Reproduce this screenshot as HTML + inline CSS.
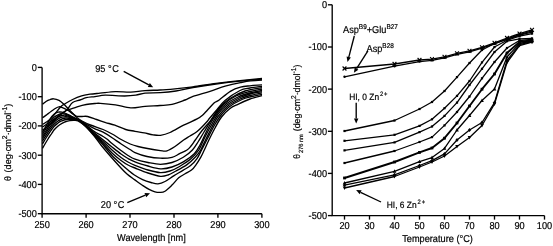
<!DOCTYPE html>
<html><head><meta charset="utf-8"><style>
html,body{margin:0;padding:0;background:#fff;width:553px;height:246px;overflow:hidden}
svg{display:block;filter:blur(0.3px)}
</style></head><body>
<svg width="553" height="246" viewBox="0 0 553 246">
<rect width="553" height="246" fill="#fff"/>
<path d="M42.1 67.4 V213.7 H261.9" stroke="#000" stroke-width="1.35" fill="none"/>
<path d="M37.8 67.4 H42.1" stroke="#000" stroke-width="1.35" fill="none"/>
<path d="M37.8 96.7 H42.1" stroke="#000" stroke-width="1.35" fill="none"/>
<path d="M37.8 125.9 H42.1" stroke="#000" stroke-width="1.35" fill="none"/>
<path d="M37.8 155.2 H42.1" stroke="#000" stroke-width="1.35" fill="none"/>
<path d="M37.8 184.4 H42.1" stroke="#000" stroke-width="1.35" fill="none"/>
<path d="M37.8 213.7 H42.1" stroke="#000" stroke-width="1.35" fill="none"/>
<path d="M42.1 213.7 V217.7" stroke="#000" stroke-width="1.35" fill="none"/>
<path d="M86.1 213.7 V217.7" stroke="#000" stroke-width="1.35" fill="none"/>
<path d="M130.0 213.7 V217.7" stroke="#000" stroke-width="1.35" fill="none"/>
<path d="M174.0 213.7 V217.7" stroke="#000" stroke-width="1.35" fill="none"/>
<path d="M217.9 213.7 V217.7" stroke="#000" stroke-width="1.35" fill="none"/>
<path d="M261.9 213.7 V217.7" stroke="#000" stroke-width="1.35" fill="none"/>
<path d="M42.5 124.5 C43.1 124.1 44.8 123.1 46.0 122.2 C47.2 121.4 48.7 120.7 50.0 119.5 C51.3 118.3 52.7 116.6 54.0 115.0 C55.3 113.4 56.8 111.5 58.0 110.0 C59.2 108.5 60.3 107.1 61.5 106.0 C62.7 104.9 63.6 104.6 65.4 103.5 C67.2 102.4 69.9 100.8 72.6 99.5 C75.3 98.2 78.7 96.8 81.6 95.9 C84.5 95.0 86.9 94.7 90.0 94.2 C93.1 93.8 95.8 93.6 100.0 93.2 C104.2 92.8 110.3 91.8 115.4 91.6 C120.5 91.4 125.8 92.3 130.7 92.1 C135.6 91.9 140.1 90.9 145.0 90.6 C149.9 90.2 155.0 90.3 160.0 90.0 C165.0 89.7 169.5 89.3 175.0 88.8 C180.5 88.3 186.2 87.7 193.0 86.8 C199.8 85.9 208.2 84.4 216.0 83.4 C223.8 82.4 232.3 81.4 240.0 80.6 C247.7 79.8 258.3 78.8 262.0 78.5" stroke="#000" stroke-width="1.35" fill="none"/>
<path d="M42.5 127.0 C43.2 126.5 45.2 125.2 47.0 124.0 C48.8 122.8 51.1 121.2 53.4 119.6 C55.7 118.0 58.4 115.9 60.6 114.3 C62.9 112.7 64.9 111.8 66.9 109.8 C68.9 107.8 70.4 104.1 72.6 102.5 C74.8 100.9 77.7 100.8 80.0 100.0 C82.3 99.2 83.7 98.3 86.2 97.7 C88.7 97.1 91.8 97.0 95.0 96.6 C98.2 96.2 100.4 95.3 105.3 95.2 C110.2 95.1 119.5 96.0 124.6 96.0 C129.7 96.0 132.4 95.7 135.8 95.2 C139.2 94.7 140.9 93.5 145.0 93.1 C149.1 92.7 155.3 93.0 160.5 92.7 C165.7 92.4 170.6 91.9 176.0 91.0 C181.4 90.1 186.3 88.7 193.0 87.5 C199.7 86.3 208.2 85.0 216.0 84.0 C223.8 83.0 232.3 82.0 240.0 81.2 C247.7 80.4 258.3 79.5 262.0 79.2" stroke="#000" stroke-width="1.35" fill="none"/>
<path d="M42.5 130.0 C43.2 129.5 45.4 128.2 47.0 127.0 C48.6 125.8 50.3 124.5 52.0 123.0 C53.7 121.5 55.3 119.6 57.0 118.0 C58.7 116.4 60.4 114.8 62.0 113.5 C63.6 112.2 65.0 111.2 66.4 110.5 C67.8 109.8 68.6 109.7 70.4 109.1 C72.2 108.5 74.5 107.6 77.1 106.8 C79.7 106.0 83.2 105.0 86.2 104.5 C89.2 104.0 92.7 103.7 95.0 103.5 C97.3 103.3 96.8 103.1 100.2 103.3 C103.6 103.5 110.3 104.0 115.4 104.8 C120.5 105.6 125.8 107.7 130.7 107.9 C135.6 108.2 140.1 106.7 145.0 106.3 C149.9 105.9 155.5 105.8 160.0 105.5 C164.5 105.2 167.8 105.3 172.0 104.4 C176.2 103.5 181.5 101.3 185.0 100.0 C188.5 98.7 188.8 97.8 193.0 96.3 C197.2 94.8 204.6 93.0 210.0 91.3 C215.4 89.6 220.1 87.7 225.2 86.2 C230.3 84.8 236.2 83.5 240.5 82.6 C244.8 81.7 247.1 81.2 250.7 80.8 C254.3 80.4 260.1 80.1 262.0 80.0" stroke="#000" stroke-width="1.35" fill="none"/>
<path d="M42.5 117.8 C43.2 117.2 45.6 115.5 47.0 114.5 C48.4 113.5 49.6 112.5 51.0 111.5 C52.4 110.5 53.9 109.3 55.2 108.5 C56.5 107.7 57.6 106.9 59.0 106.8 C60.4 106.7 62.1 107.5 63.6 108.1 C65.1 108.7 66.4 109.4 68.1 110.4 C69.8 111.5 72.0 113.4 73.5 114.4 C75.0 115.4 75.4 116.0 76.8 116.3 C78.2 116.6 80.2 116.5 82.0 116.5 C83.8 116.5 85.2 116.0 87.6 116.5 C90.0 117.0 93.6 118.5 96.6 119.5 C99.6 120.5 102.7 121.6 105.7 122.6 C108.7 123.5 111.5 124.0 114.8 125.2 C118.1 126.4 122.3 128.5 125.7 129.5 C129.1 130.5 131.9 130.7 135.0 131.3 C138.1 131.9 141.3 132.3 144.3 132.9 C147.3 133.5 150.3 134.4 153.0 134.8 C155.7 135.2 157.7 135.7 160.5 135.3 C163.3 134.9 166.2 134.2 170.0 132.5 C173.8 130.8 179.1 127.5 183.6 125.2 C188.1 122.9 193.9 120.6 197.1 118.9 C200.3 117.2 201.1 116.5 202.8 115.0 C204.5 113.5 205.6 112.0 207.5 110.0 C209.4 108.0 212.1 104.7 214.0 103.0 C215.9 101.3 216.5 102.0 219.2 100.0 C221.9 98.0 226.8 93.4 230.3 91.3 C233.9 89.2 237.2 88.1 240.5 87.2 C243.8 86.3 246.4 86.2 250.0 85.8 C253.6 85.4 260.0 85.1 262.0 84.9" stroke="#000" stroke-width="1.35" fill="none"/>
<path d="M42.5 104.2 C43.1 103.8 44.8 102.3 46.0 101.5 C47.2 100.7 48.7 100.0 50.0 99.6 C51.3 99.1 52.1 98.7 53.6 98.8 C55.1 98.9 57.3 99.5 59.0 100.4 C60.7 101.3 62.1 102.6 63.6 104.0 C65.1 105.4 66.6 107.1 68.1 108.6 C69.6 110.1 71.2 111.7 72.6 113.1 C73.9 114.5 74.6 115.7 76.2 117.0 C77.8 118.3 79.6 119.7 82.0 121.0 C84.4 122.3 86.9 123.6 90.4 125.0 C93.9 126.4 99.5 128.0 103.1 129.5 C106.7 131.0 109.1 132.3 112.1 134.0 C115.1 135.7 118.2 137.8 121.2 139.5 C124.2 141.2 127.4 142.8 130.2 144.0 C133.0 145.2 135.1 145.8 138.0 146.5 C140.9 147.2 143.8 147.8 147.5 148.5 C151.2 149.2 157.2 150.2 160.4 150.6 C163.7 151.0 164.6 151.5 167.0 150.8 C169.4 150.1 172.2 148.3 175.0 146.5 C177.8 144.7 181.1 141.8 183.6 140.0 C186.1 138.2 187.8 137.4 190.0 136.0 C192.2 134.6 194.4 133.8 197.1 131.6 C199.8 129.3 204.1 124.8 206.2 122.5 C208.3 120.2 208.2 119.9 209.8 118.0 C211.4 116.1 213.3 113.9 215.8 111.0 C218.3 108.1 221.0 103.9 225.0 100.5 C229.0 97.1 235.8 92.6 240.0 90.5 C244.2 88.4 246.3 88.7 250.0 88.0 C253.7 87.3 260.0 86.6 262.0 86.3" stroke="#000" stroke-width="1.35" fill="none"/>
<path d="M42.5 132.5 C43.1 131.4 44.8 128.2 46.0 126.0 C47.2 123.8 48.7 121.0 50.0 119.0 C51.3 117.0 52.7 115.4 54.0 114.3 C55.3 113.2 56.7 112.5 58.0 112.2 C59.3 111.9 60.7 112.0 62.0 112.2 C63.3 112.4 64.3 112.8 66.0 113.5 C67.7 114.2 70.0 115.5 72.0 116.5 C74.0 117.5 75.7 118.3 78.0 119.6 C80.3 120.9 83.3 122.8 86.0 124.2 C88.7 125.7 91.2 127.0 94.0 128.3 C96.8 129.6 100.1 130.6 103.1 132.2 C106.1 133.8 109.1 135.7 112.1 137.7 C115.1 139.7 118.2 142.0 121.2 144.0 C124.2 146.0 127.7 148.1 130.0 149.5 C132.3 150.9 132.2 151.4 135.0 152.6 C137.8 153.8 142.8 155.6 147.0 156.5 C151.2 157.4 156.2 158.1 160.4 158.2 C164.6 158.3 168.8 158.1 172.0 157.3 C175.2 156.6 177.1 154.9 179.6 153.7 C182.1 152.5 185.1 151.3 187.0 150.0 C188.9 148.7 189.6 147.7 191.0 146.0 C192.4 144.3 193.5 142.5 195.3 140.0 C197.1 137.5 199.3 134.1 201.7 131.0 C204.1 127.9 208.0 123.8 209.8 121.6 C211.6 119.4 210.8 120.4 212.5 118.0 C214.2 115.6 217.1 110.2 220.0 107.0 C222.9 103.8 225.8 101.2 230.0 98.5 C234.2 95.8 239.7 92.8 245.0 91.0 C250.3 89.2 259.2 88.2 262.0 87.7" stroke="#000" stroke-width="1.35" fill="none"/>
<path d="M42.5 134.5 C43.1 133.5 44.8 130.6 46.0 128.5 C47.2 126.4 48.7 123.9 50.0 122.0 C51.3 120.1 52.7 118.5 54.0 117.3 C55.3 116.1 56.7 115.4 58.0 114.8 C59.3 114.2 60.7 113.8 62.0 113.7 C63.3 113.6 64.3 113.8 66.0 114.3 C67.7 114.8 70.0 116.1 72.0 117.0 C74.0 117.9 75.7 118.4 78.0 119.7 C80.3 121.0 83.3 123.1 86.0 125.0 C88.7 126.9 91.2 129.4 94.0 131.3 C96.8 133.2 100.7 135.1 103.0 136.5 C105.3 137.9 106.1 138.3 107.6 139.5 C109.1 140.7 109.8 141.7 112.0 143.5 C114.2 145.3 118.3 148.5 121.0 150.5 C123.7 152.5 125.7 154.1 128.0 155.5 C130.3 156.9 131.7 158.0 135.0 159.2 C138.3 160.4 143.8 161.7 148.0 162.5 C152.2 163.3 156.4 164.3 160.4 164.3 C164.4 164.3 168.2 163.7 172.0 162.5 C175.8 161.3 179.9 159.4 183.3 157.3 C186.7 155.2 190.0 152.6 192.4 150.0 C194.8 147.4 196.1 145.0 198.0 142.0 C199.9 139.0 201.8 135.6 204.0 132.0 C206.2 128.4 209.0 123.7 211.0 120.5 C213.0 117.3 213.8 115.8 216.0 113.0 C218.2 110.2 220.7 106.8 224.0 104.0 C227.3 101.2 231.7 98.1 236.0 96.0 C240.3 93.9 245.7 92.7 250.0 91.5 C254.3 90.3 260.0 89.4 262.0 89.0" stroke="#000" stroke-width="1.35" fill="none"/>
<path d="M42.5 136.5 C43.1 135.6 44.8 133.0 46.0 131.0 C47.2 129.0 48.7 126.3 50.0 124.5 C51.3 122.7 52.7 121.2 54.0 120.0 C55.3 118.8 56.7 117.8 58.0 117.0 C59.3 116.2 60.7 115.8 62.0 115.5 C63.3 115.2 64.3 115.0 66.0 115.3 C67.7 115.6 70.0 116.8 72.0 117.5 C74.0 118.2 75.7 118.5 78.0 119.8 C80.3 121.1 83.3 123.4 86.0 125.5 C88.7 127.6 91.2 130.2 94.0 132.6 C96.8 135.0 100.0 137.4 103.0 139.8 C106.0 142.2 109.0 144.6 112.0 147.0 C115.0 149.4 118.3 152.1 121.0 154.0 C123.7 155.9 125.7 157.2 128.0 158.5 C130.3 159.8 131.7 160.6 135.0 161.8 C138.3 163.1 143.8 164.8 148.0 166.0 C152.2 167.2 156.4 168.6 160.4 168.8 C164.4 169.0 168.2 168.2 172.0 167.0 C175.8 165.8 179.6 164.1 183.3 161.9 C187.0 159.7 191.5 156.5 194.3 153.7 C197.1 150.9 198.1 148.5 200.0 145.0 C201.9 141.5 204.0 136.5 206.0 132.5 C208.0 128.5 210.0 124.4 212.0 121.0 C214.0 117.6 215.7 114.8 218.0 112.0 C220.3 109.2 222.7 106.5 226.0 104.0 C229.3 101.5 234.0 98.8 238.0 97.0 C242.0 95.2 246.0 94.1 250.0 93.0 C254.0 91.9 260.0 90.8 262.0 90.3" stroke="#000" stroke-width="1.35" fill="none"/>
<path d="M42.5 138.5 C43.1 137.6 44.8 134.9 46.0 133.0 C47.2 131.1 48.7 128.8 50.0 127.0 C51.3 125.2 52.7 123.5 54.0 122.2 C55.3 120.9 56.7 119.8 58.0 119.0 C59.3 118.2 60.7 117.6 62.0 117.2 C63.3 116.8 64.3 116.5 66.0 116.6 C67.7 116.7 70.0 117.5 72.0 118.0 C74.0 118.5 75.7 118.6 78.0 119.9 C80.3 121.2 83.3 123.7 86.0 126.0 C88.7 128.3 91.2 131.0 94.0 133.6 C96.8 136.2 100.0 138.9 103.0 141.6 C106.0 144.3 109.0 147.3 112.0 150.0 C115.0 152.7 118.3 155.5 121.0 157.5 C123.7 159.5 125.7 160.7 128.0 162.0 C130.3 163.3 131.7 164.0 135.0 165.3 C138.3 166.6 143.8 168.8 148.0 170.0 C152.2 171.2 156.7 172.4 160.4 172.6 C164.1 172.8 166.8 172.0 170.0 171.0 C173.2 170.0 176.2 168.5 179.6 166.5 C183.0 164.5 187.4 161.8 190.6 159.1 C193.8 156.3 196.4 153.7 198.8 150.0 C201.2 146.3 202.8 141.3 205.0 137.0 C207.2 132.7 209.8 127.8 212.0 124.0 C214.2 120.2 215.5 117.2 218.0 114.0 C220.5 110.8 223.3 107.8 227.0 105.0 C230.7 102.2 236.2 99.3 240.0 97.5 C243.8 95.7 246.3 95.0 250.0 94.0 C253.7 93.0 260.0 92.0 262.0 91.6" stroke="#000" stroke-width="1.35" fill="none"/>
<path d="M42.5 141.0 C43.1 140.1 44.8 137.2 46.0 135.3 C47.2 133.4 48.7 131.1 50.0 129.3 C51.3 127.5 52.7 125.7 54.0 124.3 C55.3 122.9 56.7 121.9 58.0 121.0 C59.3 120.1 60.7 119.5 62.0 119.0 C63.3 118.5 64.3 118.1 66.0 118.0 C67.7 117.9 70.0 118.3 72.0 118.6 C74.0 118.9 75.7 118.7 78.0 120.0 C80.3 121.3 83.3 123.9 86.0 126.3 C88.7 128.7 91.2 131.6 94.0 134.4 C96.8 137.2 100.0 140.1 103.0 143.2 C106.0 146.3 109.0 150.1 112.0 153.0 C115.0 155.9 118.3 158.5 121.0 160.5 C123.7 162.5 125.7 163.8 128.0 165.0 C130.3 166.2 131.7 166.7 135.0 168.0 C138.3 169.3 143.8 171.6 148.0 173.0 C152.2 174.4 157.1 176.0 160.4 176.3 C163.7 176.6 165.4 175.9 168.0 175.0 C170.6 174.1 172.8 172.7 176.0 171.0 C179.2 169.3 183.8 166.9 187.0 164.6 C190.2 162.3 192.9 159.7 195.2 157.3 C197.5 154.9 198.9 153.1 200.7 150.0 C202.5 146.9 204.1 142.8 206.0 139.0 C207.9 135.2 210.0 130.8 212.0 127.0 C214.0 123.2 215.3 120.0 218.0 116.5 C220.7 113.0 224.3 108.9 228.0 106.0 C231.7 103.1 236.3 100.8 240.0 99.0 C243.7 97.2 246.3 96.5 250.0 95.5 C253.7 94.5 260.0 93.3 262.0 92.9" stroke="#000" stroke-width="1.35" fill="none"/>
<path d="M42.5 144.0 C43.1 143.0 44.8 140.0 46.0 138.0 C47.2 136.0 48.7 133.7 50.0 131.8 C51.3 129.9 52.7 128.0 54.0 126.5 C55.3 125.0 56.7 124.0 58.0 123.0 C59.3 122.0 60.7 121.4 62.0 120.8 C63.3 120.2 64.3 119.8 66.0 119.5 C67.7 119.2 70.0 119.2 72.0 119.3 C74.0 119.4 75.7 119.0 78.0 120.2 C80.3 121.4 83.3 124.1 86.0 126.6 C88.7 129.1 91.2 132.1 94.0 135.1 C96.8 138.1 100.0 141.4 103.0 144.8 C106.0 148.2 109.0 152.3 112.0 155.5 C115.0 158.7 118.3 161.6 121.0 164.0 C123.7 166.4 125.8 168.2 128.0 170.0 C130.2 171.8 131.6 173.2 134.0 174.8 C136.4 176.4 139.8 178.3 142.6 179.6 C145.4 180.9 148.4 181.8 151.0 182.5 C153.6 183.2 155.7 184.0 158.0 183.8 C160.3 183.6 162.3 182.9 165.0 181.5 C167.7 180.1 171.0 177.5 174.1 175.6 C177.2 173.7 180.6 171.8 183.3 170.1 C186.1 168.4 188.3 167.4 190.6 165.5 C192.9 163.6 195.2 161.2 197.0 158.6 C198.8 156.0 199.9 153.2 201.6 150.0 C203.3 146.8 204.9 143.5 207.0 139.5 C209.1 135.5 211.8 129.8 214.0 126.0 C216.2 122.2 217.5 119.7 220.0 116.5 C222.5 113.3 225.3 109.8 229.0 107.0 C232.7 104.2 238.2 101.2 242.0 99.5 C245.8 97.8 248.7 97.4 252.0 96.5 C255.3 95.6 260.3 94.7 262.0 94.3" stroke="#000" stroke-width="1.35" fill="none"/>
<path d="M42.5 148.3 C42.9 147.6 44.1 145.6 45.0 144.0 C45.9 142.4 46.9 140.8 48.0 139.0 C49.1 137.2 50.7 135.0 51.7 133.5 C52.7 132.0 53.0 131.2 54.0 130.0 C55.0 128.8 56.5 127.4 57.8 126.3 C59.1 125.2 60.6 124.2 62.0 123.4 C63.4 122.6 64.7 122.0 66.0 121.5 C67.3 121.0 68.7 120.8 70.0 120.6 C71.3 120.4 72.7 120.2 74.0 120.3 C75.3 120.4 76.2 120.0 78.0 121.0 C79.8 122.0 82.3 123.5 85.0 126.0 C87.7 128.5 91.3 132.6 94.0 135.8 C96.7 139.1 98.3 141.8 101.3 145.5 C104.3 149.2 108.7 154.2 112.0 158.0 C115.3 161.8 118.5 165.3 121.0 168.0 C123.5 170.7 124.8 172.1 127.0 174.0 C129.2 175.9 132.0 177.8 134.5 179.6 C137.0 181.4 139.6 183.4 142.0 185.0 C144.4 186.6 146.9 188.3 149.1 189.4 C151.3 190.5 153.2 191.3 155.0 191.8 C156.8 192.3 158.3 192.5 160.0 192.4 C161.7 192.3 162.9 192.5 165.0 191.2 C167.1 189.9 170.0 187.0 172.3 184.8 C174.6 182.6 176.6 179.6 178.7 177.8 C180.8 176.0 183.0 175.1 185.1 173.8 C187.2 172.5 189.7 171.6 191.5 170.1 C193.3 168.6 194.6 166.7 196.1 164.6 C197.6 162.5 199.3 159.7 200.7 157.3 C202.1 154.9 202.9 152.9 204.3 150.0 C205.7 147.1 207.1 143.7 208.9 140.0 C210.7 136.3 212.9 131.8 215.0 128.0 C217.1 124.2 219.0 120.2 221.5 117.0 C224.0 113.8 227.3 110.6 230.0 108.5 C232.7 106.4 234.6 105.9 237.9 104.3 C241.2 102.7 246.0 100.5 250.0 99.0 C254.0 97.5 260.0 96.2 262.0 95.6" stroke="#000" stroke-width="1.35" fill="none"/>
<path d="M332.2 4.8 V215.6 H544.5" stroke="#000" stroke-width="1.35" fill="none"/>
<path d="M327.9 4.8 H332.2" stroke="#000" stroke-width="1.35" fill="none"/>
<path d="M327.9 47.0 H332.2" stroke="#000" stroke-width="1.35" fill="none"/>
<path d="M327.9 89.1 H332.2" stroke="#000" stroke-width="1.35" fill="none"/>
<path d="M327.9 131.3 H332.2" stroke="#000" stroke-width="1.35" fill="none"/>
<path d="M327.9 173.4 H332.2" stroke="#000" stroke-width="1.35" fill="none"/>
<path d="M327.9 215.6 H332.2" stroke="#000" stroke-width="1.35" fill="none"/>
<path d="M344.5 215.6 V219.6" stroke="#000" stroke-width="1.35" fill="none"/>
<path d="M369.5 215.6 V219.6" stroke="#000" stroke-width="1.35" fill="none"/>
<path d="M394.5 215.6 V219.6" stroke="#000" stroke-width="1.35" fill="none"/>
<path d="M419.5 215.6 V219.6" stroke="#000" stroke-width="1.35" fill="none"/>
<path d="M444.5 215.6 V219.6" stroke="#000" stroke-width="1.35" fill="none"/>
<path d="M469.5 215.6 V219.6" stroke="#000" stroke-width="1.35" fill="none"/>
<path d="M494.5 215.6 V219.6" stroke="#000" stroke-width="1.35" fill="none"/>
<path d="M519.5 215.6 V219.6" stroke="#000" stroke-width="1.35" fill="none"/>
<path d="M544.5 215.6 V219.6" stroke="#000" stroke-width="1.35" fill="none"/>
<path d="M344.5 131.0 L394.5 120.5 L419.5 109.0 L432.0 102.0 L444.5 91.0 L457.0 77.1 L469.5 63.0 L482.0 50.0 L494.5 43.5 L507.0 39.5 L519.5 35.2 L532.0 32.2" stroke="#000" stroke-width="1.3" fill="none" stroke-linejoin="round"/>
<rect x="343.4" y="129.9" width="2.2" height="2.2" fill="#000"/>
<rect x="393.4" y="119.4" width="2.2" height="2.2" fill="#000"/>
<rect x="418.4" y="107.9" width="2.2" height="2.2" fill="#000"/>
<rect x="430.9" y="100.9" width="2.2" height="2.2" fill="#000"/>
<rect x="443.4" y="89.9" width="2.2" height="2.2" fill="#000"/>
<rect x="455.9" y="76.0" width="2.2" height="2.2" fill="#000"/>
<rect x="468.4" y="61.9" width="2.2" height="2.2" fill="#000"/>
<rect x="480.9" y="48.9" width="2.2" height="2.2" fill="#000"/>
<rect x="493.4" y="42.4" width="2.2" height="2.2" fill="#000"/>
<rect x="505.9" y="38.4" width="2.2" height="2.2" fill="#000"/>
<rect x="518.4" y="34.1" width="2.2" height="2.2" fill="#000"/>
<rect x="530.9" y="31.1" width="2.2" height="2.2" fill="#000"/>
<path d="M344.5 140.8 L394.5 134.8 L419.5 125.9 L432.0 119.3 L444.5 108.2 L457.0 95.9 L469.5 81.0 L482.0 62.4 L494.5 47.0 L507.0 40.3 L519.5 36.2 L532.0 33.6" stroke="#000" stroke-width="1.3" fill="none" stroke-linejoin="round"/>
<rect x="343.4" y="139.7" width="2.2" height="2.2" fill="#000"/>
<rect x="393.4" y="133.7" width="2.2" height="2.2" fill="#000"/>
<rect x="418.4" y="124.8" width="2.2" height="2.2" fill="#000"/>
<rect x="430.9" y="118.2" width="2.2" height="2.2" fill="#000"/>
<rect x="443.4" y="107.1" width="2.2" height="2.2" fill="#000"/>
<rect x="455.9" y="94.8" width="2.2" height="2.2" fill="#000"/>
<rect x="468.4" y="79.9" width="2.2" height="2.2" fill="#000"/>
<rect x="480.9" y="61.3" width="2.2" height="2.2" fill="#000"/>
<rect x="493.4" y="45.9" width="2.2" height="2.2" fill="#000"/>
<rect x="505.9" y="39.2" width="2.2" height="2.2" fill="#000"/>
<rect x="518.4" y="35.1" width="2.2" height="2.2" fill="#000"/>
<rect x="530.9" y="32.5" width="2.2" height="2.2" fill="#000"/>
<path d="M344.5 150.4 L394.5 142.4 L419.5 132.1 L432.0 126.5 L444.5 115.9 L457.0 102.6 L469.5 85.0 L482.0 68.8 L494.5 52.0 L507.0 41.2 L519.5 38.8 L532.0 38.4" stroke="#000" stroke-width="1.3" fill="none" stroke-linejoin="round"/>
<rect x="343.4" y="149.3" width="2.2" height="2.2" fill="#000"/>
<rect x="393.4" y="141.3" width="2.2" height="2.2" fill="#000"/>
<rect x="418.4" y="131.0" width="2.2" height="2.2" fill="#000"/>
<rect x="430.9" y="125.4" width="2.2" height="2.2" fill="#000"/>
<rect x="443.4" y="114.8" width="2.2" height="2.2" fill="#000"/>
<rect x="455.9" y="101.5" width="2.2" height="2.2" fill="#000"/>
<rect x="468.4" y="83.9" width="2.2" height="2.2" fill="#000"/>
<rect x="480.9" y="67.7" width="2.2" height="2.2" fill="#000"/>
<rect x="493.4" y="50.9" width="2.2" height="2.2" fill="#000"/>
<rect x="505.9" y="40.1" width="2.2" height="2.2" fill="#000"/>
<rect x="518.4" y="37.7" width="2.2" height="2.2" fill="#000"/>
<rect x="530.9" y="37.3" width="2.2" height="2.2" fill="#000"/>
<path d="M344.5 163.0 L394.5 151.0 L419.5 142.0 L432.0 137.1 L444.5 125.4 L457.0 112.0 L469.5 96.5 L482.0 78.3 L494.5 62.0 L507.0 48.0 L519.5 40.5 L532.0 39.4" stroke="#000" stroke-width="1.3" fill="none" stroke-linejoin="round"/>
<rect x="343.4" y="161.9" width="2.2" height="2.2" fill="#000"/>
<rect x="393.4" y="149.9" width="2.2" height="2.2" fill="#000"/>
<rect x="418.4" y="140.9" width="2.2" height="2.2" fill="#000"/>
<rect x="430.9" y="136.0" width="2.2" height="2.2" fill="#000"/>
<rect x="443.4" y="124.3" width="2.2" height="2.2" fill="#000"/>
<rect x="455.9" y="110.9" width="2.2" height="2.2" fill="#000"/>
<rect x="468.4" y="95.4" width="2.2" height="2.2" fill="#000"/>
<rect x="480.9" y="77.2" width="2.2" height="2.2" fill="#000"/>
<rect x="493.4" y="60.9" width="2.2" height="2.2" fill="#000"/>
<rect x="505.9" y="46.9" width="2.2" height="2.2" fill="#000"/>
<rect x="518.4" y="39.4" width="2.2" height="2.2" fill="#000"/>
<rect x="530.9" y="38.3" width="2.2" height="2.2" fill="#000"/>
<path d="M344.5 178.0 L394.5 162.0 L419.5 152.4 L432.0 148.0 L444.5 138.2 L457.0 123.0 L469.5 106.0 L482.0 89.2 L494.5 74.0 L507.0 53.0 L519.5 42.0 L532.0 40.3" stroke="#000" stroke-width="1.9" fill="none" stroke-linejoin="round"/>
<rect x="343.1" y="176.6" width="2.8" height="2.8" fill="#000"/>
<rect x="393.1" y="160.6" width="2.8" height="2.8" fill="#000"/>
<rect x="418.1" y="151.0" width="2.8" height="2.8" fill="#000"/>
<rect x="430.6" y="146.6" width="2.8" height="2.8" fill="#000"/>
<rect x="443.1" y="136.8" width="2.8" height="2.8" fill="#000"/>
<rect x="455.6" y="121.6" width="2.8" height="2.8" fill="#000"/>
<rect x="468.1" y="104.6" width="2.8" height="2.8" fill="#000"/>
<rect x="480.6" y="87.8" width="2.8" height="2.8" fill="#000"/>
<rect x="493.1" y="72.6" width="2.8" height="2.8" fill="#000"/>
<rect x="505.6" y="51.6" width="2.8" height="2.8" fill="#000"/>
<rect x="518.1" y="40.6" width="2.8" height="2.8" fill="#000"/>
<rect x="530.6" y="38.9" width="2.8" height="2.8" fill="#000"/>
<path d="M344.5 183.0 L394.5 171.3 L419.5 161.7 L432.0 157.6 L444.5 148.4 L457.0 130.0 L469.5 115.5 L482.0 100.5 L494.5 89.0 L507.0 57.0 L519.5 43.5 L532.0 41.0" stroke="#000" stroke-width="1.3" fill="none" stroke-linejoin="round"/>
<path d="M344.5 181.0 L346.3 184.4 L342.7 184.4Z" fill="#000"/>
<path d="M394.5 169.3 L396.3 172.7 L392.7 172.7Z" fill="#000"/>
<path d="M419.5 159.7 L421.3 163.1 L417.7 163.1Z" fill="#000"/>
<path d="M432.0 155.6 L433.8 159.0 L430.2 159.0Z" fill="#000"/>
<path d="M444.5 146.4 L446.3 149.8 L442.7 149.8Z" fill="#000"/>
<path d="M457.0 128.0 L458.8 131.4 L455.2 131.4Z" fill="#000"/>
<path d="M469.5 113.5 L471.3 116.9 L467.7 116.9Z" fill="#000"/>
<path d="M482.0 98.5 L483.8 101.9 L480.2 101.9Z" fill="#000"/>
<path d="M494.5 87.0 L496.3 90.4 L492.7 90.4Z" fill="#000"/>
<path d="M507.0 55.0 L508.8 58.4 L505.2 58.4Z" fill="#000"/>
<path d="M519.5 41.5 L521.3 44.9 L517.7 44.9Z" fill="#000"/>
<path d="M532.0 39.0 L533.8 42.4 L530.2 42.4Z" fill="#000"/>
<path d="M344.5 185.2 L394.5 174.8 L419.5 165.5 L432.0 160.6 L444.5 153.9 L457.0 140.0 L469.5 130.0 L482.0 122.5 L494.5 102.6 L507.0 60.5 L519.5 44.6 L532.0 41.6" stroke="#000" stroke-width="1.3" fill="none" stroke-linejoin="round"/>
<path d="M344.5 183.2 L346.1 185.2 L344.5 187.2 L342.9 185.2Z" fill="#000"/>
<path d="M394.5 172.8 L396.1 174.8 L394.5 176.8 L392.9 174.8Z" fill="#000"/>
<path d="M419.5 163.5 L421.1 165.5 L419.5 167.5 L417.9 165.5Z" fill="#000"/>
<path d="M432.0 158.6 L433.6 160.6 L432.0 162.6 L430.4 160.6Z" fill="#000"/>
<path d="M444.5 151.9 L446.1 153.9 L444.5 155.9 L442.9 153.9Z" fill="#000"/>
<path d="M457.0 138.0 L458.6 140.0 L457.0 142.0 L455.4 140.0Z" fill="#000"/>
<path d="M469.5 128.0 L471.1 130.0 L469.5 132.0 L467.9 130.0Z" fill="#000"/>
<path d="M482.0 120.5 L483.6 122.5 L482.0 124.5 L480.4 122.5Z" fill="#000"/>
<path d="M494.5 100.6 L496.1 102.6 L494.5 104.6 L492.9 102.6Z" fill="#000"/>
<path d="M507.0 58.5 L508.6 60.5 L507.0 62.5 L505.4 60.5Z" fill="#000"/>
<path d="M519.5 42.6 L521.1 44.6 L519.5 46.6 L517.9 44.6Z" fill="#000"/>
<path d="M532.0 39.6 L533.6 41.6 L532.0 43.6 L530.4 41.6Z" fill="#000"/>
<path d="M344.5 188.0 L394.5 176.5 L419.5 167.0 L432.0 162.0 L444.5 156.0 L457.0 146.5 L469.5 137.5 L482.0 125.5 L494.5 104.0 L507.0 62.5 L519.5 45.6 L532.0 42.2" stroke="#000" stroke-width="1.3" fill="none" stroke-linejoin="round"/>
<path d="M344.5 190.0 L346.3 186.6 L342.7 186.6Z" fill="#000"/>
<path d="M394.5 178.5 L396.3 175.1 L392.7 175.1Z" fill="#000"/>
<path d="M419.5 169.0 L421.3 165.6 L417.7 165.6Z" fill="#000"/>
<path d="M432.0 164.0 L433.8 160.6 L430.2 160.6Z" fill="#000"/>
<path d="M444.5 158.0 L446.3 154.6 L442.7 154.6Z" fill="#000"/>
<path d="M457.0 148.5 L458.8 145.1 L455.2 145.1Z" fill="#000"/>
<path d="M469.5 139.5 L471.3 136.1 L467.7 136.1Z" fill="#000"/>
<path d="M482.0 127.5 L483.8 124.1 L480.2 124.1Z" fill="#000"/>
<path d="M494.5 106.0 L496.3 102.6 L492.7 102.6Z" fill="#000"/>
<path d="M507.0 64.5 L508.8 61.1 L505.2 61.1Z" fill="#000"/>
<path d="M519.5 47.6 L521.3 44.2 L517.7 44.2Z" fill="#000"/>
<path d="M532.0 44.2 L533.8 40.8 L530.2 40.8Z" fill="#000"/>
<path d="M344.5 68.5 L394.5 64.0 L419.5 60.0 L432.0 59.2 L444.5 56.8 L457.0 53.4 L469.5 50.9 L482.0 47.3 L494.5 42.9 L507.0 38.0 L519.5 33.6 L532.0 29.8" stroke="#000" stroke-width="1.3" fill="none"/>
<path d="M342.6 66.5 L346.4 70.5 M342.6 70.5 L346.4 66.5" stroke="#000" stroke-width="1.1"/>
<path d="M392.6 62.0 L396.4 66.0 M392.6 66.0 L396.4 62.0" stroke="#000" stroke-width="1.1"/>
<path d="M417.6 58.0 L421.4 62.0 M417.6 62.0 L421.4 58.0" stroke="#000" stroke-width="1.1"/>
<path d="M430.1 57.2 L433.9 61.2 M430.1 61.2 L433.9 57.2" stroke="#000" stroke-width="1.1"/>
<path d="M442.6 54.8 L446.4 58.8 M442.6 58.8 L446.4 54.8" stroke="#000" stroke-width="1.1"/>
<path d="M455.1 51.4 L458.9 55.4 M455.1 55.4 L458.9 51.4" stroke="#000" stroke-width="1.1"/>
<path d="M467.6 48.9 L471.4 52.9 M467.6 52.9 L471.4 48.9" stroke="#000" stroke-width="1.1"/>
<path d="M480.1 45.3 L483.9 49.3 M480.1 49.3 L483.9 45.3" stroke="#000" stroke-width="1.1"/>
<path d="M492.6 40.9 L496.4 44.9 M492.6 44.9 L496.4 40.9" stroke="#000" stroke-width="1.1"/>
<path d="M505.1 36.0 L508.9 40.0 M505.1 40.0 L508.9 36.0" stroke="#000" stroke-width="1.1"/>
<path d="M517.6 31.6 L521.4 35.6 M517.6 35.6 L521.4 31.6" stroke="#000" stroke-width="1.1"/>
<path d="M530.1 27.8 L533.9 31.8 M530.1 31.8 L533.9 27.8" stroke="#000" stroke-width="1.1"/>
<path d="M344.5 76.8 L394.5 66.2 L419.5 61.6 L432.0 60.4 L444.5 57.8 L457.0 54.4 L469.5 51.8 L482.0 48.2 L494.5 43.8 L507.0 38.9 L519.5 34.6 L532.0 30.9" stroke="#000" stroke-width="1.3" fill="none"/>
<circle cx="344.5" cy="76.8" r="1.2" fill="#000"/>
<circle cx="394.5" cy="66.2" r="1.2" fill="#000"/>
<circle cx="419.5" cy="61.6" r="1.2" fill="#000"/>
<circle cx="432.0" cy="60.4" r="1.2" fill="#000"/>
<circle cx="444.5" cy="57.8" r="1.2" fill="#000"/>
<circle cx="457.0" cy="54.4" r="1.2" fill="#000"/>
<circle cx="469.5" cy="51.8" r="1.2" fill="#000"/>
<circle cx="482.0" cy="48.2" r="1.2" fill="#000"/>
<circle cx="494.5" cy="43.8" r="1.2" fill="#000"/>
<circle cx="507.0" cy="38.9" r="1.2" fill="#000"/>
<circle cx="519.5" cy="34.6" r="1.2" fill="#000"/>
<circle cx="532.0" cy="30.9" r="1.2" fill="#000"/>
<path d="M123.7 71.4 L148.8 84.9" stroke="#000" stroke-width="1.35"/><path d="M153.2 87.3 L147.8 86.9 L149.8 83.0Z" fill="#000"/>
<path d="M127.3 202.7 L145.4 195.1" stroke="#000" stroke-width="1.35"/><path d="M150.0 193.2 L146.2 197.2 L144.5 193.1Z" fill="#000"/>
<path d="M354.3 36.0 L348.8 57.1" stroke="#000" stroke-width="1.35"/><path d="M347.5 61.9 L346.6 56.5 L350.9 57.6Z" fill="#000"/>
<path d="M367.9 50.9 L356.6 68.6" stroke="#000" stroke-width="1.35"/><path d="M353.9 72.8 L354.7 67.4 L358.4 69.8Z" fill="#000"/>
<path d="M356.2 102.7 L356.2 118.5" stroke="#000" stroke-width="1.35"/><path d="M356.2 123.5 L354.0 118.5 L358.4 118.5Z" fill="#000"/>
<path d="M381.0 202.0 L360.6 192.3" stroke="#000" stroke-width="1.35"/><path d="M356.1 190.1 L361.6 190.3 L359.7 194.2Z" fill="#000"/>
<text transform="translate(36.80 70.90) scale(0.92 1)" font-size="10.0" text-anchor="end" font-family="Liberation Sans, Arial, sans-serif" text-rendering="geometricPrecision" stroke="#000" stroke-width="0.2">0</text>
<text transform="translate(327.00 8.30) scale(0.92 1)" font-size="10.0" text-anchor="end" font-family="Liberation Sans, Arial, sans-serif" text-rendering="geometricPrecision" stroke="#000" stroke-width="0.2">0</text>
<text transform="translate(36.80 100.15) scale(0.92 1)" font-size="10.0" text-anchor="end" font-family="Liberation Sans, Arial, sans-serif" text-rendering="geometricPrecision" stroke="#000" stroke-width="0.2">-100</text>
<text transform="translate(327.00 50.46) scale(0.92 1)" font-size="10.0" text-anchor="end" font-family="Liberation Sans, Arial, sans-serif" text-rendering="geometricPrecision" stroke="#000" stroke-width="0.2">-100</text>
<text transform="translate(36.80 129.40) scale(0.92 1)" font-size="10.0" text-anchor="end" font-family="Liberation Sans, Arial, sans-serif" text-rendering="geometricPrecision" stroke="#000" stroke-width="0.2">-200</text>
<text transform="translate(327.00 92.62) scale(0.92 1)" font-size="10.0" text-anchor="end" font-family="Liberation Sans, Arial, sans-serif" text-rendering="geometricPrecision" stroke="#000" stroke-width="0.2">-200</text>
<text transform="translate(36.80 158.65) scale(0.92 1)" font-size="10.0" text-anchor="end" font-family="Liberation Sans, Arial, sans-serif" text-rendering="geometricPrecision" stroke="#000" stroke-width="0.2">-300</text>
<text transform="translate(327.00 134.78) scale(0.92 1)" font-size="10.0" text-anchor="end" font-family="Liberation Sans, Arial, sans-serif" text-rendering="geometricPrecision" stroke="#000" stroke-width="0.2">-300</text>
<text transform="translate(36.80 187.90) scale(0.92 1)" font-size="10.0" text-anchor="end" font-family="Liberation Sans, Arial, sans-serif" text-rendering="geometricPrecision" stroke="#000" stroke-width="0.2">-400</text>
<text transform="translate(327.00 176.94) scale(0.92 1)" font-size="10.0" text-anchor="end" font-family="Liberation Sans, Arial, sans-serif" text-rendering="geometricPrecision" stroke="#000" stroke-width="0.2">-400</text>
<text transform="translate(36.80 217.15) scale(0.92 1)" font-size="10.0" text-anchor="end" font-family="Liberation Sans, Arial, sans-serif" text-rendering="geometricPrecision" stroke="#000" stroke-width="0.2">-500</text>
<text transform="translate(327.00 219.10) scale(0.92 1)" font-size="10.0" text-anchor="end" font-family="Liberation Sans, Arial, sans-serif" text-rendering="geometricPrecision" stroke="#000" stroke-width="0.2">-500</text>
<text transform="translate(42.10 227.80) scale(0.92 1)" font-size="10.0" text-anchor="middle" font-family="Liberation Sans, Arial, sans-serif" text-rendering="geometricPrecision" stroke="#000" stroke-width="0.2">250</text>
<text transform="translate(86.06 227.80) scale(0.92 1)" font-size="10.0" text-anchor="middle" font-family="Liberation Sans, Arial, sans-serif" text-rendering="geometricPrecision" stroke="#000" stroke-width="0.2">260</text>
<text transform="translate(130.02 227.80) scale(0.92 1)" font-size="10.0" text-anchor="middle" font-family="Liberation Sans, Arial, sans-serif" text-rendering="geometricPrecision" stroke="#000" stroke-width="0.2">270</text>
<text transform="translate(173.98 227.80) scale(0.92 1)" font-size="10.0" text-anchor="middle" font-family="Liberation Sans, Arial, sans-serif" text-rendering="geometricPrecision" stroke="#000" stroke-width="0.2">280</text>
<text transform="translate(217.94 227.80) scale(0.92 1)" font-size="10.0" text-anchor="middle" font-family="Liberation Sans, Arial, sans-serif" text-rendering="geometricPrecision" stroke="#000" stroke-width="0.2">290</text>
<text transform="translate(261.90 227.80) scale(0.92 1)" font-size="10.0" text-anchor="middle" font-family="Liberation Sans, Arial, sans-serif" text-rendering="geometricPrecision" stroke="#000" stroke-width="0.2">300</text>
<text transform="translate(344.50 228.60) scale(0.92 1)" font-size="10.0" text-anchor="middle" font-family="Liberation Sans, Arial, sans-serif" text-rendering="geometricPrecision" stroke="#000" stroke-width="0.2">20</text>
<text transform="translate(369.50 228.60) scale(0.92 1)" font-size="10.0" text-anchor="middle" font-family="Liberation Sans, Arial, sans-serif" text-rendering="geometricPrecision" stroke="#000" stroke-width="0.2">30</text>
<text transform="translate(394.50 228.60) scale(0.92 1)" font-size="10.0" text-anchor="middle" font-family="Liberation Sans, Arial, sans-serif" text-rendering="geometricPrecision" stroke="#000" stroke-width="0.2">40</text>
<text transform="translate(419.50 228.60) scale(0.92 1)" font-size="10.0" text-anchor="middle" font-family="Liberation Sans, Arial, sans-serif" text-rendering="geometricPrecision" stroke="#000" stroke-width="0.2">50</text>
<text transform="translate(444.50 228.60) scale(0.92 1)" font-size="10.0" text-anchor="middle" font-family="Liberation Sans, Arial, sans-serif" text-rendering="geometricPrecision" stroke="#000" stroke-width="0.2">60</text>
<text transform="translate(469.50 228.60) scale(0.92 1)" font-size="10.0" text-anchor="middle" font-family="Liberation Sans, Arial, sans-serif" text-rendering="geometricPrecision" stroke="#000" stroke-width="0.2">70</text>
<text transform="translate(494.50 228.60) scale(0.92 1)" font-size="10.0" text-anchor="middle" font-family="Liberation Sans, Arial, sans-serif" text-rendering="geometricPrecision" stroke="#000" stroke-width="0.2">80</text>
<text transform="translate(519.50 228.60) scale(0.92 1)" font-size="10.0" text-anchor="middle" font-family="Liberation Sans, Arial, sans-serif" text-rendering="geometricPrecision" stroke="#000" stroke-width="0.2">90</text>
<text transform="translate(544.50 228.60) scale(0.92 1)" font-size="10.0" text-anchor="middle" font-family="Liberation Sans, Arial, sans-serif" text-rendering="geometricPrecision" stroke="#000" stroke-width="0.2">100</text>
<text transform="translate(151.40 241.40) scale(0.92 1)" font-size="10.0" text-anchor="middle" font-family="Liberation Sans, Arial, sans-serif" text-rendering="geometricPrecision" stroke="#000" stroke-width="0.2">Wavelength [nm]</text>
<text transform="translate(437.50 242.20) scale(0.92 1)" font-size="10.0" text-anchor="middle" font-family="Liberation Sans, Arial, sans-serif" text-rendering="geometricPrecision" stroke="#000" stroke-width="0.2">Temperature (°C)</text>
<text transform="translate(95.20 72.00) scale(0.92 1)" font-size="10.0" text-anchor="start" font-family="Liberation Sans, Arial, sans-serif" text-rendering="geometricPrecision" stroke="#000" stroke-width="0.2">95 °<tspan dx="0.6">C</tspan></text>
<text transform="translate(100.80 207.90) scale(0.92 1)" font-size="10.0" text-anchor="start" font-family="Liberation Sans, Arial, sans-serif" text-rendering="geometricPrecision" stroke="#000" stroke-width="0.2">20 °<tspan dx="0.6">C</tspan></text>
<text transform="translate(343.00 33.40) scale(0.92 1)" font-size="10.0" text-anchor="start" font-family="Liberation Sans, Arial, sans-serif" text-rendering="geometricPrecision" stroke="#000" stroke-width="0.2">Asp<tspan font-size="7" dy="-4.2">B9</tspan><tspan dy="4.2">+Glu</tspan><tspan font-size="7" dy="-4.2">B27</tspan></text>
<text transform="translate(366.50 52.00) scale(0.92 1)" font-size="10.0" text-anchor="start" font-family="Liberation Sans, Arial, sans-serif" text-rendering="geometricPrecision" stroke="#000" stroke-width="0.2">Asp<tspan font-size="7" dy="-4.2">B28</tspan></text>
<text transform="translate(349.20 99.90) scale(0.92 1)" font-size="9.15" text-anchor="start" font-family="Liberation Sans, Arial, sans-serif" text-rendering="geometricPrecision" stroke="#000" stroke-width="0.2">HI, 0 Zn<tspan font-size="6.3" dy="-4.1" dx="1.0" letter-spacing="0.9">2+</tspan></text>
<text transform="translate(386.80 207.70) scale(0.92 1)" font-size="9.15" text-anchor="start" font-family="Liberation Sans, Arial, sans-serif" text-rendering="geometricPrecision" stroke="#000" stroke-width="0.2">HI, 6 Zn<tspan font-size="6.3" dy="-4.1" dx="1.0" letter-spacing="0.9">2+</tspan></text>
<text transform="translate(10.90 180.90) rotate(-90)" font-size="9.3" textLength="4.9" lengthAdjust="spacingAndGlyphs" font-family="Liberation Sans, Arial, sans-serif" text-rendering="geometricPrecision" stroke="#000" stroke-width="0.2">θ</text>
<text transform="translate(10.80 172.40) rotate(-90)" font-size="9.3" textLength="68.8" lengthAdjust="spacingAndGlyphs" font-family="Liberation Sans, Arial, sans-serif" text-rendering="geometricPrecision" stroke="#000" stroke-width="0.2">(deg·cm<tspan font-size="7" dy="-3.6">2</tspan><tspan dy="3.6">·dmol</tspan><tspan font-size="7" dy="-3.6">-1</tspan><tspan dy="3.6">)</tspan></text>
<text transform="translate(299.70 158.70) rotate(-90)" font-size="9.3" textLength="4.7" lengthAdjust="spacingAndGlyphs" font-family="Liberation Sans, Arial, sans-serif" text-rendering="geometricPrecision" stroke="#000" stroke-width="0.2">θ</text>
<text transform="translate(303.00 153.00) rotate(-90)" font-size="6.0" textLength="18.8" lengthAdjust="spacingAndGlyphs" font-family="Liberation Sans, Arial, sans-serif" text-rendering="geometricPrecision" stroke="#000" stroke-width="0.2">276 nm</text>
<text transform="translate(299.70 131.20) rotate(-90)" font-size="9.3" textLength="66.6" lengthAdjust="spacingAndGlyphs" font-family="Liberation Sans, Arial, sans-serif" text-rendering="geometricPrecision" stroke="#000" stroke-width="0.2">(deg·cm<tspan font-size="7" dy="-3.6">2</tspan><tspan dy="3.6">·dmol</tspan><tspan font-size="7" dy="-3.6">-1</tspan><tspan dy="3.6">)</tspan></text>
</svg>
</body></html>
